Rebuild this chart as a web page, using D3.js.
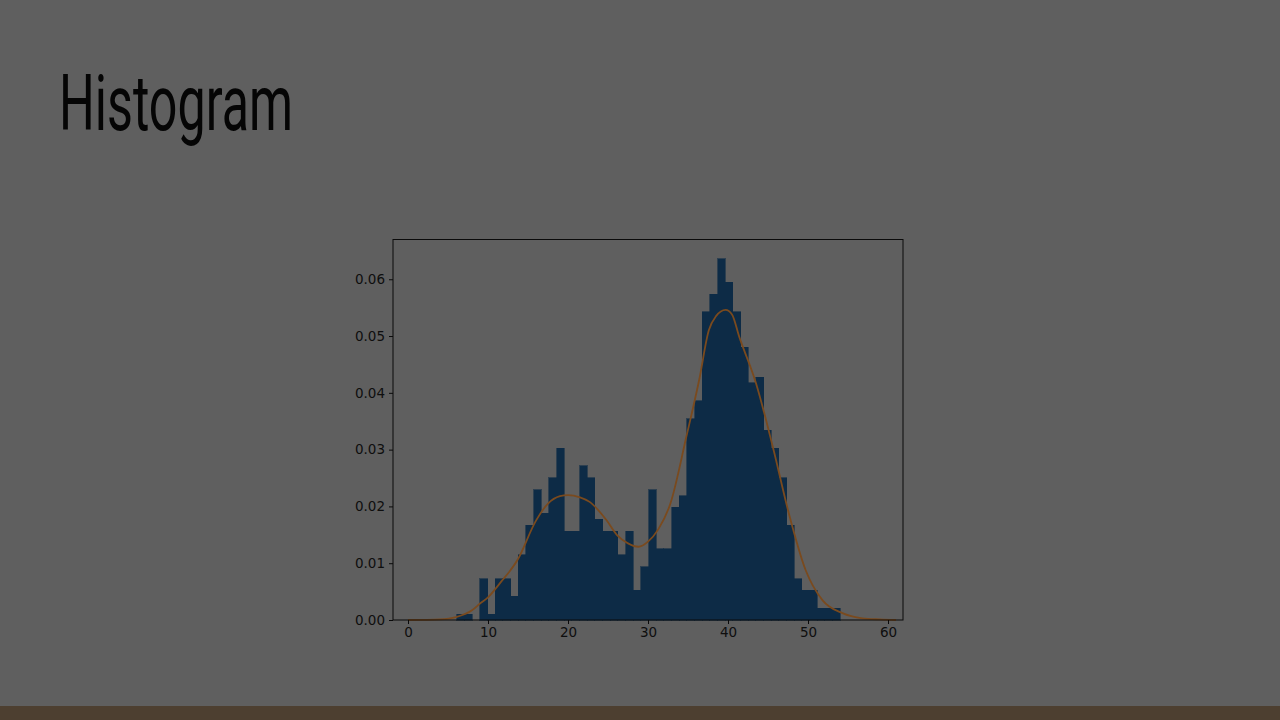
<!DOCTYPE html>
<html>
<head>
<meta charset="utf-8">
<script src="https://cdn.jsdelivr.net/npm/d3@7"></script>
<style>
  html, body { margin: 0; padding: 0; background: #5f5f5f; }
  svg { display: block; }
</style>
</head>
<body>
<svg id="chart" width="1280" height="720"></svg>
<script>
// histogram: 50 bins of equal width, counts out of 1000 samples
var binStart = 6.12;
var binWidth = 0.9583;
var sampleSize = 1000;
var binCounts = [1, 1, 0, 7, 1, 7, 7, 4, 11, 16,
                 22, 18, 24, 29, 15, 15, 26, 24, 17, 15,
                 15, 11, 15, 5, 9, 22, 12, 12, 19, 21,
                 34, 37, 52, 55, 61, 57, 52, 46, 40, 41,
                 32, 29, 24, 16, 7, 5, 5, 2, 2, 2];

// density curve
var kdeX = [0, 2, 4, 6, 8, 9, 10, 11.5, 13.7, 16, 17.5, 19, 20, 21.5, 22.7, 24.8, 26.1, 27.5, 28.8,
            30, 31.3, 32.8, 34.8, 36.4, 37.6, 38.5, 39.7, 40.5, 41.4, 43.5, 45.6, 47.6, 49.7, 51.8,
            54.3, 56.8, 59, 61];
var kdeY = [0, 0.00003, 0.0001, 0.0005, 0.0017, 0.0029, 0.004, 0.0065, 0.0106, 0.0175, 0.0205, 0.0218,
            0.022, 0.0216, 0.0208, 0.0176, 0.015, 0.0135, 0.0129, 0.0138, 0.016, 0.0205, 0.0323, 0.0423,
            0.051, 0.0535, 0.0546, 0.0538, 0.0499, 0.0417, 0.0305, 0.0188, 0.0088, 0.0035, 0.0012,
            0.0003, 0.0001, 0];

var xTicks = [0, 10, 20, 30, 40, 50, 60];
var yTicks = [0, 0.01, 0.02, 0.03, 0.04, 0.05, 0.06];

var svg = d3.select('#chart');

// slide title
svg.append('text')
  .attr('x', 59)
  .attr('y', 130)
  .attr('textLength', 234)
  .attr('lengthAdjust', 'spacingAndGlyphs')
  .style('font-family', 'Roboto, sans-serif')
  .style('font-size', '78px')
  .style('font-weight', 400)
  .style('fill', '#050505')
  .text('Histogram');

// brown strip at the bottom
svg.append('rect')
  .attr('x', 0).attr('y', 706)
  .attr('width', 1280).attr('height', 14)
  .style('fill', '#4d3f30');

var plotLeft = 393, plotRight = 903, plotTop = 239.5, plotBottom = 620;

var x = d3.scaleLinear().domain([-1.875, 61.875]).range([plotLeft, plotRight]);
var y = d3.scaleLinear().domain([0, 0.0670]).range([plotBottom, plotTop]);

var bins = binCounts.map(function (c, i) {
  return { x0: binStart + i * binWidth, x1: binStart + (i + 1) * binWidth, density: c / (sampleSize * binWidth) };
});

var g = svg.append('g');

g.selectAll('rect.bar')
  .data(bins)
  .enter()
  .append('rect')
  .attr('class', 'bar')
  .attr('x', function (d) { return x(d.x0); })
  .attr('width', function (d) { return x(d.x1) - x(d.x0); })
  .attr('y', function (d) { return y(d.density); })
  .attr('height', function (d) { return plotBottom - y(d.density); })
  .attr('shape-rendering', 'crispEdges')
  .style('fill', '#0d2b46')
  .style('stroke', '#0d2b46')
  .style('stroke-width', 0.6);

var line = d3.line()
  .x(function (d) { return x(d[0]); })
  .y(function (d) { return y(d[1]); })
  .curve(d3.curveMonotoneX);

g.append('path')
  .datum(d3.zip(kdeX, kdeY))
  .attr('d', line)
  .style('fill', 'none')
  .style('stroke', '#7a4a1e')
  .style('stroke-width', 1.8);

// axes
var xAxis = d3.axisBottom(x).tickValues(xTicks).tickSize(4).tickPadding(3).tickFormat(d3.format('d'));
var yAxis = d3.axisLeft(y).tickValues(yTicks).tickSize(4).tickPadding(4).tickFormat(d3.format('.2f'));

var gx = svg.append('g').attr('transform', 'translate(0,' + plotBottom + ')').call(xAxis);
var gy = svg.append('g').attr('transform', 'translate(' + plotLeft + ',0)').call(yAxis);

[gx, gy].forEach(function (a) {
  a.select('.domain').remove();
  a.selectAll('line').style('stroke', '#0a0a0a').style('stroke-width', 1);
  a.selectAll('text')
    .style('font-family', '"DejaVu Sans", sans-serif')
    .style('font-size', '13.5px')
    .style('fill', '#0e0e0e');
});

// frame
svg.append('rect')
  .attr('x', plotLeft).attr('y', plotTop)
  .attr('width', plotRight - plotLeft).attr('height', plotBottom - plotTop)
  .style('fill', 'none')
  .style('stroke', '#0a0a0a')
  .style('stroke-width', 1);
</script>
</body>
</html>
